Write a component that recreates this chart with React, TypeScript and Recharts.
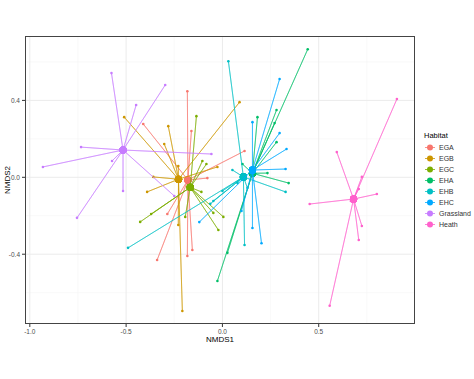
import { ReferenceLine, Scatter, ScatterChart, XAxis, YAxis } from 'recharts';

// NMDS ordination: each site joined to its habitat centroid (spider plot)

type Pt = [number, number];

const habitats = ['EGA', 'EGB', 'EGC', 'EHA', 'EHB', 'EHC', 'Grassland', 'Heath'];
const colors = ['#F8766D', '#CD9600', '#7CAE00', '#00BE67', '#00BFC4', '#00A9FF', '#C77CFF', '#FF61CC'];

const centroids: Pt[] = [
  [-0.179, -0.014],
  [-0.228, -0.01],
  [-0.167, -0.052],
  [0.156, 0.021],
  [0.109, 0.002],
  [0.156, 0.038],
  [-0.516, 0.142],
  [0.681, -0.113],
];

const egaSites: Pt[] = [
  [-0.182, 0.448], [-0.161, 0.241], [-0.411, 0.277], [0.115, 0.137], [-0.078, -0.004],
  [-0.286, -0.191], [-0.156, -0.378], [-0.182, -0.409], [-0.339, -0.43],
];
const egbSites: Pt[] = [
  [-0.51, 0.313], [-0.281, 0.266], [0.089, 0.391], [-0.302, 0.173], [-0.229, 0.059],
  [-0.026, 0.054], [-0.359, 0.002], [-0.391, -0.076], [-0.229, -0.248], [-0.208, -0.695],
];
const egcSites: Pt[] = [
  [-0.135, 0.318], [-0.104, 0.085], [-0.083, 0.069], [-0.109, -0.076], [-0.193, -0.206],
  [-0.047, -0.185], [0.005, -0.206], [-0.021, -0.274], [-0.37, -0.191], [-0.427, -0.232],
];
const ehaSites: Pt[] = [
  [0.443, 0.666], [0.182, 0.313], [0.281, 0.35], [0.271, 0.282], [0.281, 0.183],
  [0.234, 0.022], [0.344, -0.03], [0.104, 0.069], [0.026, -0.393], [-0.026, -0.539],
];
const ehbSites: Pt[] = [
  [0.031, 0.604], [-0.49, -0.367], [0.0, -0.071], [-0.047, -0.123], [-0.063, -0.138],
  [0.115, -0.352], [0.328, -0.076], [0.078, -0.03], [0.13, -0.056], [0.052, 0.038],
];
const ehcSites: Pt[] = [
  [0.297, 0.511], [0.156, 0.287], [0.297, 0.23], [0.333, 0.147], [0.328, 0.043],
  [0.203, -0.343], [0.156, -0.264], [0.099, -0.175], [-0.12, -0.233],
];
const grasslandSites: Pt[] = [
  [-0.576, 0.542], [-0.448, 0.376], [-0.297, 0.48], [-0.734, 0.157], [-0.932, 0.054],
  [-0.573, 0.085], [-0.057, 0.121], [-0.516, -0.071], [-0.755, -0.211], [-0.25, -0.097],
];
const heathSites: Pt[] = [
  [0.906, 0.407], [0.594, 0.131], [0.724, 0.002], [0.708, -0.061], [0.802, -0.087],
  [0.453, -0.139], [0.667, -0.123], [0.724, -0.253], [0.708, -0.326], [0.557, -0.668],
];

const sites = [egaSites, egbSites, egcSites, ehaSites, ehbSites, ehcSites, grasslandSites, heathSites];

const xTicks = [-1, -0.5, 0, 0.5];
const yTicks = [-0.4, 0, 0.4];
const xMinor = [-0.75, -0.25, 0.25, 0.75];
const yMinor = [-0.6, -0.2, 0.2, 0.6];

const X_DOMAIN: [number, number] = [-1.025, 1.0];
const Y_DOMAIN: [number, number] = [-0.763, 0.735];

const FONT = '"Liberation Sans", Arial, sans-serif';

// centroid -> site -> centroid -> site ... so one polyline draws the spider
function spider(i: number) {
  const [cx, cy] = centroids[i];
  const out: { x: number; y: number; c: boolean }[] = [];
  sites[i].forEach(([x, y]) => {
    out.push({ x: cx, y: cy, c: true });
    out.push({ x, y, c: false });
  });
  out.push({ x: cx, y: cy, c: true });
  return out;
}

function dot(color: string) {
  return (props: any) => {
    const { cx, cy, payload } = props;
    if (!Number.isFinite(cx) || !Number.isFinite(cy)) return <g />;
    return <circle cx={cx} cy={cy} r={payload?.c ? 3.6 : 1.3} fill={color} />;
  };
}

export default function App() {
  return (
    <div style={{ position: 'absolute', left: 0, top: 0, width: 474, height: 379, background: '#fff', fontFamily: FONT }}>
      <ScatterChart width={474} height={379} margin={{ top: 36, right: 59, bottom: 0, left: 0 }}>
        <XAxis
          type="number"
          dataKey="x"
          domain={X_DOMAIN}
          ticks={xTicks}
          allowDataOverflow
          tickFormatter={(v) => Number(v).toFixed(1)}
          tick={{ fill: '#4d4d4d', fontSize: 6.5, fontFamily: FONT }}
          tickSize={3}
          tickLine={{ stroke: '#333' }}
          axisLine={false}
          height={55}
        />
        <YAxis
          type="number"
          dataKey="y"
          domain={Y_DOMAIN}
          ticks={yTicks}
          allowDataOverflow
          tickFormatter={(v) => Number(v).toFixed(1)}
          tick={{ fill: '#4d4d4d', fontSize: 6.5, fontFamily: FONT }}
          tickSize={3}
          tickLine={{ stroke: '#333' }}
          axisLine={false}
          width={25}
        />
        {xMinor.map((v) => (
          <ReferenceLine key={`xm${v}`} x={v} stroke="#f5f5f5" strokeWidth={0.6} />
        ))}
        {yMinor.map((v) => (
          <ReferenceLine key={`ym${v}`} y={v} stroke="#f5f5f5" strokeWidth={0.6} />
        ))}
        {xTicks.map((v) => (
          <ReferenceLine key={`xM${v}`} x={v} stroke="#ebebeb" strokeWidth={1} />
        ))}
        {yTicks.map((v) => (
          <ReferenceLine key={`yM${v}`} y={v} stroke="#ebebeb" strokeWidth={1} />
        ))}
        {habitats.map((h, i) => (
          <Scatter
            key={h}
            name={h}
            data={spider(i)}
            fill={colors[i]}
            line={{ stroke: colors[i], strokeWidth: 0.6, strokeOpacity: 0.9 }}
            lineType="joint"
            shape={dot(colors[i])}
            isAnimationActive={false}
          />
        ))}
      </ScatterChart>

      {/* panel border */}
      <div
        style={{
          position: 'absolute',
          left: 25,
          top: 36,
          width: 390,
          height: 288,
          border: '1px solid #444',
          boxSizing: 'border-box',
          pointerEvents: 'none',
        }}
      />

      <div style={{ position: 'absolute', left: 200, width: 40, top: 335, textAlign: 'center', fontSize: 8, lineHeight: '10px', color: '#000' }}>
        NMDS1
      </div>
      <div
        style={{
          position: 'absolute',
          left: -12,
          top: 175,
          width: 40,
          textAlign: 'center',
          fontSize: 8,
          lineHeight: '10px',
          color: '#000',
          transform: 'rotate(-90deg)',
        }}
      >
        NMDS2
      </div>

      {/* legend */}
      <div style={{ position: 'absolute', left: 424, top: 130, fontSize: 7.5, color: '#000' }}>
        <div style={{ height: 12, lineHeight: '12px' }}>Habitat</div>
        {habitats.map((h, i) => (
          <div key={h} style={{ display: 'flex', alignItems: 'center', height: 11 }}>
            <svg width={12} height={11}>
              <line x1={1} y1={5.5} x2={11} y2={5.5} stroke={colors[i]} strokeWidth={0.8} />
              <circle cx={6} cy={5.5} r={3} fill={colors[i]} />
            </svg>
            <span style={{ marginLeft: 3, fontSize: 7, color: '#333' }}>{h}</span>
          </div>
        ))}
      </div>
    </div>
  );
}
